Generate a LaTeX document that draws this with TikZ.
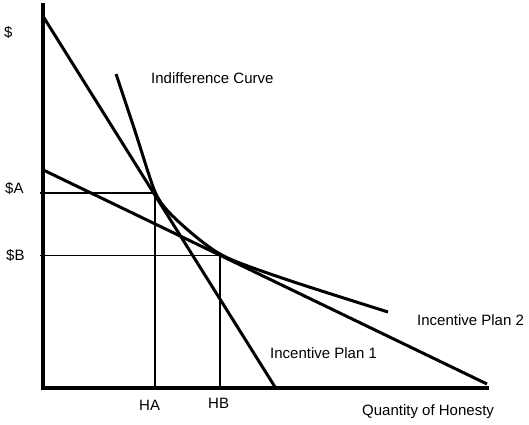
\documentclass[tikz,border=0pt]{standalone}
\usepackage{fontspec}
\setmainfont{Liberation Sans}
\begin{document}
\begin{tikzpicture}[x=1pt,y=-1pt,
  axis/.style={line width=4.2pt},
  budget/.style={line width=3pt},
  guide/.style={line width=1.8pt},
  lbl/.style={inner sep=0pt,anchor=base west,font=\fontsize{15}{18}\selectfont}]
\useasboundingbox (0,0) rectangle (529,424);
% coordinates
\coordinate (O) at (43,388);
\coordinate (Ytop) at (43,3);
\coordinate (Xend) at (489,388);
\coordinate (L1a) at (43.3,16.7);
\coordinate (L1b) at (275,387);
\coordinate (L2a) at (43.3,170);
\coordinate (L2b) at (487,384);
\coordinate (TA) at (155,193);
\coordinate (TB) at (220,255.5);
\coordinate (YA) at (40,193);
\coordinate (YB) at (40,255.5);
\coordinate (XA) at (155,388);
\coordinate (XB) at (220,388);
% guide lines
\draw[guide] (YA) -- (TA) -- (XA);
\draw[guide] (YB) -- (TB) -- (XB);
% budget lines
\draw[budget] (L1a) -- (L1b);
\draw[budget] (L2a) -- (L2b);
% indifference curve
\draw[budget] plot[smooth,tension=0.55] coordinates {(116,74) (135,131) (150,178) (157,196) (166,209) (180,223) (200,240) (220,254) (245,265) (300,284) (388,312)};
% axes
\draw[axis] (Ytop) -- (O) -- (Xend);
% labels
\node[lbl] (ldollar) at (4,37) {\$};
\node[lbl] (lind) at (151,83) {Indifference Curve};
\node[lbl] (lA) at (5,193) {\$A};
\node[lbl] (lB) at (6,260) {\$B};
\node[lbl] (lHA) at (139,410) {HA};
\node[lbl] (lHB) at (208,408) {HB};
\node[lbl] (lQ) at (362,415) {Quantity of Honesty};
\node[lbl] (lP2) at (417,325) {Incentive Plan 2};
\node[lbl] (lP1) at (270,358) {Incentive Plan 1};
\end{tikzpicture}
\end{document}
